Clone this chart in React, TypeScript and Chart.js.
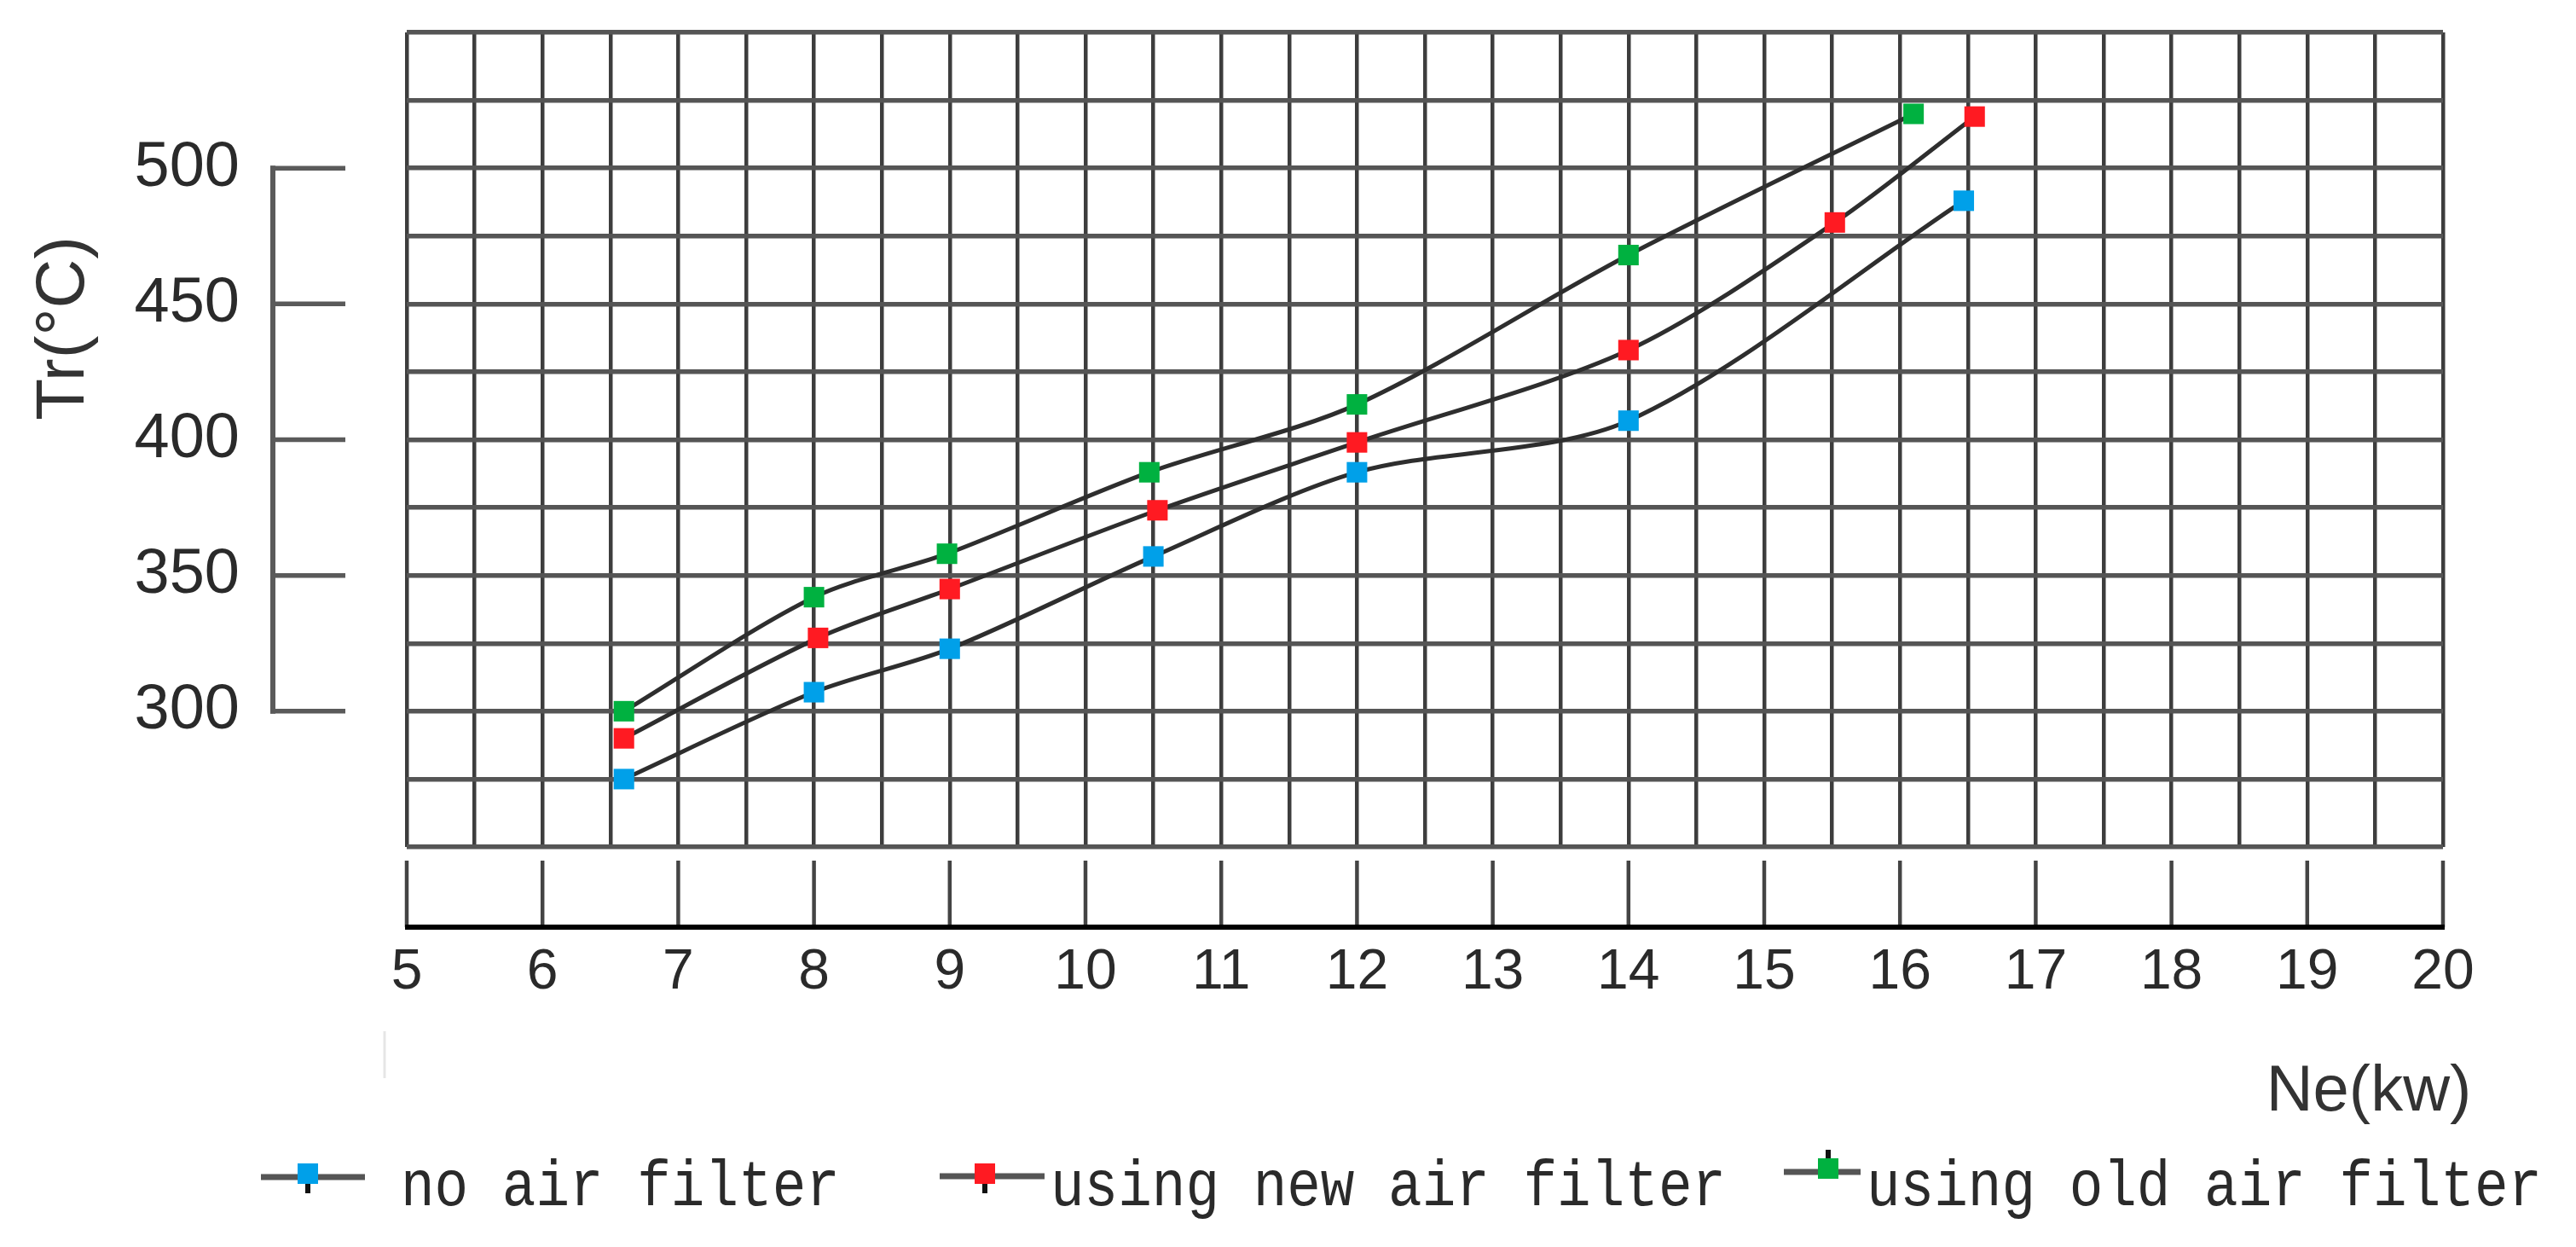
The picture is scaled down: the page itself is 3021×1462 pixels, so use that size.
import React, { useEffect, useRef } from "react";
import { Chart, registerables } from "chart.js";

Chart.register(...registerables);

// ---- data ----
const SERIES_NAMES = ["no air filter", "using new air filter", "using old air filter"];
const SERIES_COLORS = ["#00a0e9", "#ff1a22", "#00b140"];

const X_NO = [6.6, 8, 9, 10.5, 12, 14, 16.47];
const Y_NO = [275, 307, 323, 357, 388, 407, 488];

const X_NEW = [6.6, 8.03, 9, 10.53, 12, 14, 15.52, 16.55];
const Y_NEW = [290, 327, 345, 374, 399, 433, 480, 519];

const X_OLD = [6.6, 8, 8.98, 10.47, 12, 14, 16.1];
const Y_OLD = [300, 342, 358, 388, 413, 468, 520];

const X_MIN = 5;
const X_MAX = 20;
const X_GRID_STEP = 0.5;
const X_TICK_LABELS = [5, 6, 7, 8, 9, 10, 11, 12, 13, 14, 15, 16, 17, 18, 19, 20];

const Y_MIN = 250;
const Y_MAX = 550;
const Y_GRID_STEP = 25;
const Y_TICK_LABELS = [300, 350, 400, 450, 500];

const X_TITLE = "Ne(kw)";
const Y_TITLE = "Tr(°C)";

const W = 3005;
const H = 1446;

function pts(xs: number[], ys: number[]) {
  return xs.map((x, i) => ({ x, y: ys[i] }));
}

const decorPlugin = {
  id: "decor",
  afterDraw(chart: any) {
    const ctx = chart.ctx as CanvasRenderingContext2D;
    const xs = chart.scales.x;
    const ys = chart.scales.y;
    ctx.save();

    // separate bracket-style y axis
    const bx = 312;
    const tx = 397;
    ctx.strokeStyle = "#5a5a5a";
    ctx.lineWidth = 6;
    ctx.lineCap = "butt";
    const yTop = ys.getPixelForValue(Y_TICK_LABELS[Y_TICK_LABELS.length - 1]);
    const yBot = ys.getPixelForValue(Y_TICK_LABELS[0]);
    ctx.beginPath();
    ctx.moveTo(bx, yTop - 3);
    ctx.lineTo(bx, yBot + 3);
    ctx.stroke();
    ctx.lineWidth = 5.5;
    for (const v of Y_TICK_LABELS) {
      const py = ys.getPixelForValue(v);
      ctx.beginPath();
      ctx.moveTo(bx - 3, py);
      ctx.lineTo(tx, py);
      ctx.stroke();
    }

    // x-axis strip with integer ticks
    const stripTop = 1001;
    const axisY = 1079;
    ctx.strokeStyle = "#444";
    ctx.lineWidth = 4.5;
    for (const v of X_TICK_LABELS) {
      const px = xs.getPixelForValue(v);
      ctx.beginPath();
      ctx.moveTo(px, stripTop);
      ctx.lineTo(px, axisY);
      ctx.stroke();
    }
    ctx.strokeStyle = "#000";
    ctx.lineWidth = 6;
    ctx.beginPath();
    ctx.moveTo(xs.getPixelForValue(X_MIN) - 2, axisY);
    ctx.lineTo(xs.getPixelForValue(X_MAX) + 2, axisY);
    ctx.stroke();

    // faint scan artefact below the axis
    ctx.strokeStyle = "#e6e6e6";
    ctx.lineWidth = 3;
    ctx.beginPath();
    ctx.moveTo(443, 1201);
    ctx.lineTo(443, 1256);
    ctx.stroke();

    // y title
    ctx.fillStyle = "#333";
    ctx.font = '80px "Liberation Sans", Arial, sans-serif';
    ctx.textAlign = "center";
    ctx.textBaseline = "middle";
    ctx.save();
    ctx.translate(68, 377);
    ctx.rotate(-Math.PI / 2);
    ctx.fillText(Y_TITLE, 0, 0);
    ctx.restore();

    // x title
    ctx.font = '76px "Liberation Sans", Arial, sans-serif';
    ctx.textAlign = "center";
    ctx.textBaseline = "alphabetic";
    ctx.fillText(X_TITLE, 2770, 1294);

    // legend
    const items = [
      { l1: 298, l2: 420, ly: 1372, mx: 353, my: 1368, tx: 462, tick: 1 },
      { l1: 1094, l2: 1217, ly: 1371, mx: 1147, my: 1368, tx: 1224, tick: 1 },
      { l1: 2084, l2: 2174, ly: 1366, mx: 2136, my: 1362, tx: 2181, tick: -1 },
    ];
    items.forEach((it, i) => {
      ctx.strokeStyle = "#555";
      ctx.lineWidth = 7;
      ctx.beginPath();
      ctx.moveTo(it.l1, it.ly);
      ctx.lineTo(it.l2, it.ly);
      ctx.stroke();
      ctx.fillStyle = SERIES_COLORS[i];
      ctx.fillRect(it.mx - 12, it.my - 12, 24, 24);
      ctx.fillStyle = "#111";
      if (it.tick > 0) ctx.fillRect(it.mx - 3, it.my + 12, 6, 11);
      else ctx.fillRect(it.mx - 3, it.my - 22, 6, 10);
      ctx.fillStyle = "#2a2a2a";
      ctx.font = '66px "Liberation Mono", "DejaVu Sans Mono", monospace';
      ctx.textAlign = "left";
      ctx.textBaseline = "alphabetic";
      ctx.save();
      ctx.translate(it.tx, 1405);
      ctx.scale(1, 1.15);
      ctx.fillText(SERIES_NAMES[i], 0, 0);
      ctx.restore();
    });

    ctx.restore();
  },
};

export default function App() {
  const ref = useRef<HTMLCanvasElement>(null);
  useEffect(() => {
    if (!ref.current) return;
    const mk = (xsArr: number[], ysArr: number[], i: number) => ({
      label: SERIES_NAMES[i],
      data: pts(xsArr, ysArr),
      showLine: true,
      borderColor: "#2e2e2e",
      borderWidth: 5,
      tension: 0.3,
      pointStyle: "rect",
      pointRadius: 17,
      pointBackgroundColor: SERIES_COLORS[i],
      pointBorderWidth: 0,
      pointBorderColor: SERIES_COLORS[i],
    });
    const chart = new Chart(ref.current, {
      type: "scatter",
      data: {
        datasets: [mk(X_NO, Y_NO, 0), mk(X_NEW, Y_NEW, 1), mk(X_OLD, Y_OLD, 2)],
      } as any,
      options: {
        animation: false,
        responsive: false,
        devicePixelRatio: 1,
        layout: { padding: { top: 30, right: W - 2857, left: 0, bottom: 0 } },
        plugins: { legend: { display: false }, tooltip: { enabled: false } },
        scales: {
          x: {
            type: "linear",
            min: X_MIN,
            max: X_MAX,
            border: { display: false },
            grid: { color: "#3d3d3d", lineWidth: 4.5, drawTicks: false },
            ticks: {
              stepSize: X_GRID_STEP,
              autoSkip: false,
              maxRotation: 0,
              padding: 108,
              color: "#2a2a2a",
              font: { family: '"Liberation Sans", Arial, sans-serif', size: 66 },
              callback: (v: any) => (X_TICK_LABELS.includes(Number(v)) ? String(v) : ""),
            },
            afterFit: (s: any) => {
              s.height = H - 985;
              s.paddingLeft = 0;
              s.paddingRight = 0;
            },
          },
          y: {
            type: "linear",
            min: Y_MIN,
            max: Y_MAX,
            border: { display: false },
            grid: { color: "#555", lineWidth: 5.5, drawTicks: false },
            ticks: {
              stepSize: Y_GRID_STEP,
              autoSkip: false,
              padding: 196,
              color: "#2a2a2a",
              font: { family: '"Liberation Sans", Arial, sans-serif', size: 74 },
              callback: (v: any) => (Y_TICK_LABELS.includes(Number(v)) ? String(v) : ""),
            },
            afterFit: (s: any) => {
              s.width = 469;
              s.paddingTop = 0;
              s.paddingBottom = 0;
            },
          },
        },
      } as any,
      plugins: [decorPlugin],
    });
    return () => chart.destroy();
  }, []);
  return (
    <div style={{ width: W, height: H }}>
      <canvas ref={ref} width={W} height={H} style={{ display: "block", width: W, height: H }} />
    </div>
  );
}
